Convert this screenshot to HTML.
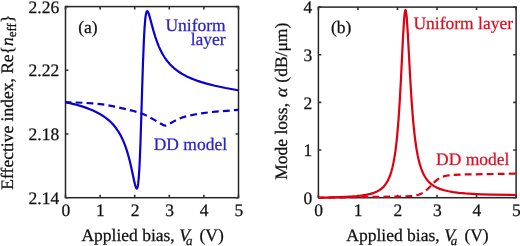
<!DOCTYPE html>
<html><head><meta charset="utf-8"><title>Effective index and mode loss vs applied bias</title><style>
html,body{margin:0;padding:0;background:#fff;}
body{width:520px;height:246px;overflow:hidden;}
svg{display:block;}
text{text-rendering:geometricPrecision;font-family:"Liberation Serif","Times New Roman",serif;font-size:17.5px;fill:#111;stroke:#111;stroke-width:0.25;}
.bl{fill:#2a22c8;stroke:#2a22c8;}
.rd{fill:#d81020;stroke:#d81020;}
</style></head><body>
<svg width="520" height="246" viewBox="0 0 520 246">
<rect width="520" height="246" fill="#fff"/>
<g fill="none" stroke="#252525" stroke-width="1.5">
<rect x="65.5" y="6.6" width="173.00" height="191.10"/>
<rect x="318.4" y="7.1" width="197.70" height="190.60"/>
</g>
<g fill="none" stroke="#333" stroke-width="1.6">
<path d="M65.50,197.7v-2.9M65.50,6.6v2.9M100.10,197.7v-2.9M100.10,6.6v2.9M134.70,197.7v-2.9M134.70,6.6v2.9M169.30,197.7v-2.9M169.30,6.6v2.9M203.90,197.7v-2.9M203.90,6.6v2.9M238.50,197.7v-2.9M238.50,6.6v2.9M65.5,197.70h2.9M238.5,197.70h-2.9M65.5,134.00h2.9M238.5,134.00h-2.9M65.5,70.30h2.9M238.5,70.30h-2.9M65.5,6.60h2.9M238.5,6.60h-2.9"/>
<path d="M318.40,197.7v-2.9M318.40,7.1v2.9M357.94,197.7v-2.9M357.94,7.1v2.9M397.48,197.7v-2.9M397.48,7.1v2.9M437.02,197.7v-2.9M437.02,7.1v2.9M476.56,197.7v-2.9M476.56,7.1v2.9M516.10,197.7v-2.9M516.10,7.1v2.9M318.4,197.70h2.9M516.1,197.70h-2.9M318.4,150.05h2.9M516.1,150.05h-2.9M318.4,102.40h2.9M516.1,102.40h-2.9M318.4,54.75h2.9M516.1,54.75h-2.9M318.4,7.10h2.9M516.1,7.10h-2.9"/>
</g>
<g fill="none" stroke-width="2.2" stroke-linejoin="round">
<path stroke="#0a00d0" stroke-dasharray="6.8 4.2" stroke-dashoffset="0.9" d="M65.50,102.30 73.20,102.41 82.76,102.74 92.70,103.44 100.36,104.18 105.55,104.88 112.25,106.05 117.14,107.08 126.66,109.27 131.89,110.56 136.65,111.92 140.93,113.33 144.78,114.82 147.07,115.88 149.84,117.34 154.42,119.91 159.01,122.71 162.81,124.76 164.20,125.37 165.36,125.60 166.23,125.50 167.18,125.14 175.14,120.64 180.33,118.21 182.19,117.50 184.22,116.87 189.71,115.51 194.64,114.52 199.40,113.69 210.39,112.17 215.84,111.62 226.56,110.84 238.50,109.80"/>
<path stroke="#0a00d0" d="M65.70,102.08 74.80,104.31 82.79,106.66 86.41,107.90 89.82,109.19 93.02,110.54 96.02,111.95 98.85,113.42 101.51,114.97 104.02,116.60 106.37,118.32 108.59,120.13 110.69,122.05 112.66,124.07 114.52,126.21 116.15,128.30 117.70,130.51 119.17,132.84 120.57,135.32 121.90,137.92 123.17,140.68 125.55,146.71 127.65,153.19 129.65,160.55 131.18,167.03 134.10,180.69 135.13,185.03 136.01,187.72 136.40,188.37 136.76,188.57 137.13,188.26 137.48,187.40 137.81,185.97 138.13,183.97 138.73,178.09 139.31,169.62 139.89,157.84 140.48,142.54 142.81,67.76 143.92,39.23 144.59,27.29 145.29,18.89 145.66,15.90 146.06,13.66 146.47,12.16 146.92,11.36 147.32,11.22 147.77,11.59 148.25,12.44 148.79,13.83 149.95,17.67 153.35,30.38 155.21,36.59 157.64,43.50 158.91,46.62 160.23,49.55 161.64,52.36 163.13,55.01 164.69,57.51 166.34,59.86 168.08,62.09 169.91,64.19 171.86,66.18 173.91,68.06 176.25,69.97 178.75,71.77 181.40,73.48 184.23,75.10 187.25,76.64 190.47,78.11 193.91,79.51 197.59,80.85 201.50,82.13 205.68,83.37 214.96,85.74 225.64,88.01 238.10,90.26"/>
<path stroke="#dc0010" stroke-dasharray="6.8 4.2" stroke-dashoffset="1.0" d="M318.40,197.70 399.04,196.52 407.69,196.26 413.15,195.83 416.05,195.37 418.55,194.73 420.80,193.87 422.91,192.76 424.83,191.45 426.79,189.80 428.72,187.94 433.99,182.49 435.71,180.92 437.34,179.63 439.35,178.31 441.42,177.26 443.65,176.42 446.11,175.77 448.70,175.31 451.72,174.97 460.02,174.54 516.10,173.65"/>
<path stroke="#dc0010" d="M318.40,197.74 338.37,197.21 345.97,196.87 352.41,196.47 357.95,195.98 362.74,195.39 366.90,194.69 370.53,193.86 373.81,192.85 376.70,191.65 379.26,190.24 381.54,188.61 383.58,186.70 385.42,184.50 387.08,181.97 388.58,179.07 389.95,175.78 391.21,172.03 392.36,167.79 393.42,163.01 394.41,157.65 395.33,151.64 396.19,144.92 397.00,137.40 398.40,121.20 399.74,101.26 400.90,80.11 403.01,37.28 403.82,23.35 404.26,17.43 404.68,13.26 405.08,10.81 405.28,10.21 405.48,10.00 405.66,10.18 405.85,10.71 406.23,12.83 406.63,16.42 407.05,21.57 407.84,34.14 410.14,76.95 411.45,98.56 412.97,118.81 413.78,127.43 414.62,135.21 415.58,142.77 416.61,149.53 417.72,155.56 418.93,160.90 420.23,165.63 421.66,169.81 423.23,173.51 424.96,176.75 426.87,179.60 429.00,182.08 431.37,184.24 434.02,186.11 437.01,187.72 440.37,189.11 444.17,190.29 448.50,191.29 453.36,192.13 458.93,192.83 465.32,193.42 472.68,193.90 481.19,194.28 491.07,194.58 516.10,194.98"/>
</g>
<text transform="translate(65.80,215.60)" text-anchor="middle">0</text><text transform="translate(100.40,215.60)" text-anchor="middle">1</text><text transform="translate(135.00,215.60)" text-anchor="middle">2</text><text transform="translate(169.60,215.60)" text-anchor="middle">3</text><text transform="translate(204.20,215.60)" text-anchor="middle">4</text><text transform="translate(238.80,215.60)" text-anchor="middle">5</text><text transform="translate(59.20,203.80)" text-anchor="end">2.14</text><text transform="translate(59.20,140.10)" text-anchor="end">2.18</text><text transform="translate(59.20,76.40)" text-anchor="end">2.22</text><text transform="translate(59.20,12.70)" text-anchor="end">2.26</text><text transform="translate(318.70,215.60)" text-anchor="middle">0</text><text transform="translate(358.24,215.60)" text-anchor="middle">1</text><text transform="translate(397.78,215.60)" text-anchor="middle">2</text><text transform="translate(437.32,215.60)" text-anchor="middle">3</text><text transform="translate(476.86,215.60)" text-anchor="middle">4</text><text transform="translate(516.40,215.60)" text-anchor="middle">5</text><text transform="translate(312.30,203.80)" text-anchor="end">0</text><text transform="translate(312.30,156.15)" text-anchor="end">1</text><text transform="translate(312.30,108.50)" text-anchor="end">2</text><text transform="translate(312.30,60.85)" text-anchor="end">3</text><text transform="translate(312.30,13.20)" text-anchor="end">4</text><text transform="translate(87.85,32.80)" text-anchor="middle">(a)</text><text transform="translate(341.20,33.00)" text-anchor="middle">(b)</text><text transform="translate(225.70,31.20)" text-anchor="end" class="bl">Uniform</text><text transform="translate(225.70,44.80)" text-anchor="end" class="bl">layer</text><text transform="translate(190.40,149.60)" text-anchor="middle" class="bl">DD model</text><text transform="translate(463.20,29.30)" text-anchor="middle" class="rd">Uniform layer</text><text transform="translate(472.70,164.60)" text-anchor="middle" class="rd">DD model</text><text transform="translate(81.40,240.60)">Applied bias, <tspan x="97.9" font-style="italic">V</tspan><tspan x="104.5" dy="4" font-size="13" font-style="italic">a</tspan><tspan x="118.1" dy="-4">(V)</tspan></text><text transform="translate(346.30,240.80)">Applied bias, <tspan x="97.9" font-style="italic">V</tspan><tspan x="104.5" dy="4" font-size="13" font-style="italic">a</tspan><tspan x="118.1" dy="-4">(V)</tspan></text><text transform="translate(12.80,102.15) rotate(-90)" text-anchor="middle">Effective index, Re{<tspan font-style="italic">n</tspan><tspan font-size="13" dy="3.6">eff</tspan><tspan dy="-3.6">}</tspan></text><text transform="translate(286.80,179.80) rotate(-90)">Mode loss,</text><text font-style="italic" transform="translate(287.20,92.30) rotate(-90) scale(1.06,1)" text-anchor="middle">α</text><text transform="translate(286.80,22.70) rotate(-90)" text-anchor="end">(dB/μm)</text>
</svg>
</body></html>
